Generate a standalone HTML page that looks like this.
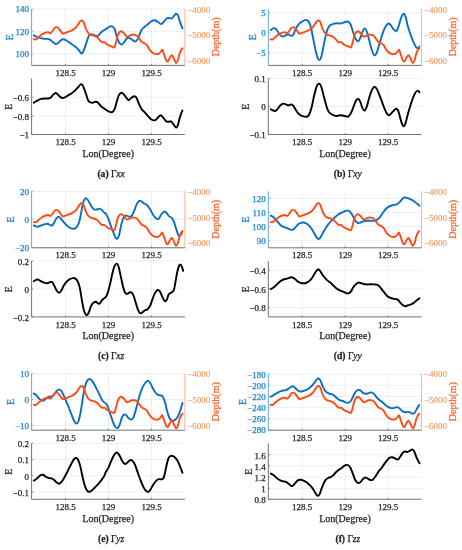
<!DOCTYPE html>
<html><head><meta charset="utf-8"><style>
html,body{margin:0;padding:0;background:#fff;width:462px;height:550px;overflow:hidden}
svg{display:block;font-family:"Liberation Serif","Times New Roman",serif}
.tb{fill:#1A82CA;stroke:#1A82CA;stroke-width:0.25px}
.to{fill:#F7975A;stroke:#F7975A;stroke-width:0.25px;stroke-opacity:.5}
.tk{fill:#262626;stroke:#262626;stroke-width:0.25px}
.tl{fill:#F2652E;stroke:#F2652E;stroke-width:0.25px}
.tc{fill:#222;stroke:#222;stroke-width:0.25px}
.mn{fill:#8F8FE0;stroke:#8F8FE0}
</style></head><body>
<svg width="462" height="550" viewBox="0 0 462 550">
<rect width="462" height="550" fill="#fff"/>
<path d="M65.5 9V65.4M65.5 78.5V134.5M108.5 9V65.4M108.5 78.5V134.5M151.5 9V65.4M151.5 78.5V134.5" stroke="#E3E3E3" stroke-width="0.6" fill="none"/>
<path d="M31.6 9H184.9M31.6 31.4H184.9M31.6 53.8H184.9" stroke="#DCEBF5" stroke-width="0.7" fill="none"/>
<path d="M31.6 97.2H184.9M31.6 116.2H184.9" stroke="#E3E3E3" stroke-width="0.6" fill="none"/>
<path d="M33.8 35.3C34.32 35.58 35.8 36.52 36.9 37C38 37.48 39.23 37.9 40.4 38.2C41.57 38.5 42.75 38.68 43.9 38.8C45.05 38.92 46.3 38.77 47.3 38.9C48.3 39.03 49.03 39.13 49.9 39.6C50.77 40.07 51.55 40.95 52.5 41.7C53.45 42.45 54.73 43.82 55.6 44.1C56.47 44.38 56.92 43.95 57.7 43.4C58.48 42.85 59.43 41.48 60.3 40.8C61.17 40.12 61.88 39.35 62.9 39.3C63.92 39.25 65.25 39.93 66.4 40.5C67.55 41.07 68.65 41.92 69.8 42.7C70.95 43.48 72.13 44.33 73.3 45.2C74.47 46.07 75.78 46.95 76.8 47.9C77.82 48.85 78.63 49.97 79.4 50.9C80.17 51.83 80.83 53.22 81.4 53.5C81.97 53.78 82.28 53.47 82.8 52.6C83.32 51.73 83.92 49.88 84.5 48.3C85.08 46.72 85.72 44.83 86.3 43.1C86.88 41.37 87.43 39.28 88 37.9C88.57 36.52 88.98 35.38 89.7 34.8C90.42 34.22 91.43 34.32 92.3 34.4C93.17 34.48 94.03 35 94.9 35.3C95.77 35.6 96.63 36.48 97.5 36.2C98.37 35.92 99.23 34.47 100.1 33.6C100.97 32.73 101.68 31.78 102.7 31C103.72 30.22 105.07 29.63 106.2 28.9C107.33 28.17 108.43 26.98 109.5 26.6C110.57 26.22 111.73 26.17 112.6 26.6C113.47 27.03 114.02 27.6 114.7 29.2C115.38 30.8 115.98 34.03 116.7 36.2C117.42 38.37 118.18 40.82 119 42.2C119.82 43.58 120.73 44.5 121.6 44.5C122.47 44.5 123.33 43.22 124.2 42.2C125.07 41.18 125.93 39.12 126.8 38.4C127.67 37.68 128.53 37.7 129.4 37.9C130.27 38.1 131.13 39.02 132 39.6C132.87 40.18 133.8 41.25 134.6 41.4C135.4 41.55 136.08 41.37 136.8 40.5C137.52 39.63 138.12 37.93 138.9 36.2C139.68 34.47 140.63 31.6 141.5 30.1C142.37 28.6 143.08 28.12 144.1 27.2C145.12 26.28 146.45 25.55 147.6 24.6C148.75 23.65 149.85 22.23 151 21.5C152.15 20.77 153.33 20.12 154.5 20.2C155.67 20.28 156.85 21.37 158 22C159.15 22.63 160.4 24.08 161.4 24C162.4 23.92 163.13 22.42 164 21.5C164.87 20.58 165.73 19.08 166.6 18.5C167.47 17.92 168.33 18 169.2 18C170.07 18 170.93 18.93 171.8 18.5C172.67 18.07 173.68 16.2 174.4 15.4C175.12 14.6 175.52 13.7 176.1 13.7C176.68 13.7 177.32 14.25 177.9 15.4C178.48 16.55 179.03 18.93 179.6 20.6C180.17 22.27 180.82 24.1 181.3 25.4C181.78 26.7 182.3 27.9 182.5 28.4" stroke="#0A6FBF" stroke-width="1.9" fill="none" stroke-linejoin="round" stroke-linecap="round"/>
<path d="M33.8 39.3C34.18 39.3 35.28 39.68 36.1 39.3C36.92 38.92 37.7 37.82 38.7 37C39.7 36.18 40.95 35.12 42.1 34.4C43.25 33.68 44.58 33.07 45.6 32.7C46.62 32.33 47.4 32.12 48.2 32.2C49 32.28 49.68 33.4 50.4 33.2C51.12 33 51.72 31.95 52.5 31C53.28 30.05 54.23 28.08 55.1 27.5C55.97 26.92 56.83 26.98 57.7 27.5C58.57 28.02 59.48 29.58 60.3 30.6C61.12 31.62 61.88 33.18 62.6 33.6C63.32 34.02 63.68 33.4 64.6 33.1C65.52 32.8 66.93 32.23 68.1 31.8C69.27 31.37 70.3 31.22 71.6 30.5C72.9 29.78 74.6 28.87 75.9 27.5C77.2 26.13 78.45 23.53 79.4 22.3C80.35 21.07 80.88 20.1 81.6 20.1C82.32 20.1 83.07 21.07 83.7 22.3C84.33 23.53 84.68 25.77 85.4 27.5C86.12 29.23 87.13 31.48 88 32.7C88.87 33.92 89.58 34.28 90.6 34.8C91.62 35.32 93.08 35.43 94.1 35.8C95.12 36.17 95.83 36.37 96.7 37C97.57 37.63 98.43 38.73 99.3 39.6C100.17 40.47 101.03 41.77 101.9 42.2C102.77 42.63 103.63 41.82 104.5 42.2C105.37 42.58 106.27 43.92 107.1 44.5C107.93 45.08 108.67 45.35 109.5 45.7C110.33 46.05 111.3 46.32 112.1 46.6C112.9 46.88 113.65 48.13 114.3 47.4C114.95 46.67 115.42 44.22 116 42.2C116.58 40.18 117.15 37.03 117.8 35.3C118.45 33.57 119.22 32.43 119.9 31.8C120.58 31.17 121.18 31.2 121.9 31.5C122.62 31.8 123.38 32.73 124.2 33.6C125.02 34.47 125.93 36.33 126.8 36.7C127.67 37.07 128.53 36.12 129.4 35.8C130.27 35.48 131.13 34.97 132 34.8C132.87 34.63 133.8 34.63 134.6 34.8C135.4 34.97 136.08 35.23 136.8 35.8C137.52 36.37 138.12 37.22 138.9 38.2C139.68 39.18 140.63 40.88 141.5 41.7C142.37 42.52 143.23 42.58 144.1 43.1C144.97 43.62 145.83 43.78 146.7 44.8C147.57 45.82 148.43 47.95 149.3 49.2C150.17 50.45 151.03 51.53 151.9 52.3C152.77 53.07 153.48 53.52 154.5 53.8C155.52 54.08 157 54.28 158 54C159 53.72 159.78 52.82 160.5 52.1C161.22 51.38 161.72 49.32 162.3 49.7C162.88 50.08 163.33 52.62 164 54.4C164.67 56.18 165.63 59.25 166.3 60.4C166.97 61.55 167.43 61.73 168 61.3C168.57 60.87 169.07 58.82 169.7 57.8C170.33 56.78 171.1 55.05 171.8 55.2C172.5 55.35 173.18 57.4 173.9 58.7C174.62 60 175.43 62.77 176.1 63C176.77 63.23 177.32 61.68 177.9 60.1C178.48 58.52 179.03 55.23 179.6 53.5C180.17 51.77 180.82 50.57 181.3 49.7C181.78 48.83 182.3 48.53 182.5 48.3" stroke="#FF4A12" stroke-width="1.9" fill="none" stroke-linejoin="round" stroke-linecap="round"/>
<path d="M33.8 102.7C34.18 102.47 35.28 101.78 36.1 101.3C36.92 100.82 37.83 100.2 38.7 99.8C39.57 99.4 40.3 99.12 41.3 98.9C42.3 98.68 43.55 98.57 44.7 98.5C45.85 98.43 47.18 98.67 48.2 98.5C49.22 98.33 49.93 98.18 50.8 97.5C51.67 96.82 52.6 95.15 53.4 94.4C54.2 93.65 54.88 93 55.6 93C56.32 93 56.92 93.73 57.7 94.4C58.48 95.07 59.43 96.4 60.3 97C61.17 97.6 62.03 98 62.9 98C63.77 98 64.63 97.43 65.5 97C66.37 96.57 67.08 96.03 68.1 95.4C69.12 94.77 70.45 94 71.6 93.2C72.75 92.4 73.85 91.67 75 90.6C76.15 89.53 77.48 87.87 78.5 86.8C79.52 85.73 80.38 84.43 81.1 84.2C81.82 83.97 82.23 84.48 82.8 85.4C83.37 86.32 83.92 88.12 84.5 89.7C85.08 91.28 85.63 93.02 86.3 94.9C86.97 96.78 87.63 99.7 88.5 101C89.37 102.3 90.63 102.47 91.5 102.7C92.37 102.93 92.98 102.55 93.7 102.4C94.42 102.25 95.07 101.75 95.8 101.8C96.53 101.85 97.23 101.97 98.1 102.7C98.97 103.43 99.93 105.18 101 106.2C102.07 107.22 103.23 107.93 104.5 108.8C105.77 109.67 107.33 110.83 108.6 111.4C109.87 111.97 111.08 112.63 112.1 112.2C113.12 111.77 113.93 110.53 114.7 108.8C115.47 107.07 115.98 104.12 116.7 101.8C117.42 99.48 118.18 96.4 119 94.9C119.82 93.4 120.73 92.8 121.6 92.8C122.47 92.8 123.33 93.97 124.2 94.9C125.07 95.83 126.02 97.53 126.8 98.4C127.58 99.27 128.18 100.18 128.9 100.1C129.62 100.02 130.23 98.53 131.1 97.9C131.97 97.27 133.23 96.37 134.1 96.3C134.97 96.23 135.5 96.28 136.3 97.5C137.1 98.72 138.03 101.67 138.9 103.6C139.77 105.53 140.63 107.75 141.5 109.1C142.37 110.45 143.08 110.6 144.1 111.7C145.12 112.8 146.45 114.45 147.6 115.7C148.75 116.95 149.85 118.42 151 119.2C152.15 119.98 153.48 120.5 154.5 120.4C155.52 120.3 156.1 119.47 157.1 118.6C158.1 117.73 159.5 115.4 160.5 115.2C161.5 115 162.23 116.45 163.1 117.4C163.97 118.35 164.83 120.17 165.7 120.9C166.57 121.63 167.43 121.72 168.3 121.8C169.17 121.88 170.03 120.97 170.9 121.4C171.77 121.83 172.63 123.38 173.5 124.4C174.37 125.42 175.37 127.37 176.1 127.5C176.83 127.63 177.32 126.73 177.9 125.2C178.48 123.67 179.03 120.32 179.6 118.3C180.17 116.28 180.82 114.4 181.3 113.1C181.78 111.8 182.3 110.93 182.5 110.5" stroke="#000" stroke-width="1.9" fill="none" stroke-linejoin="round" stroke-linecap="round"/>
<path d="M31.6 9V65.4" stroke="#3A95D2" stroke-width="0.8"/>
<path d="M184.9 9V65.4" stroke="#F7A07A" stroke-width="0.8"/>
<path d="M31.6 65.4H184.9 M31.6 78.5V134.5H184.9" stroke="#4f4f4f" stroke-width="0.8" fill="none"/>
<path d="M65.5 65.4v-1.5M65.5 134.5v-1.5M108.5 65.4v-1.5M108.5 134.5v-1.5M151.5 65.4v-1.5M151.5 134.5v-1.5" stroke="#4f4f4f" stroke-width="0.6"/>
<path d="M31.6 9h1.5M31.6 31.4h1.5M31.6 53.8h1.5" stroke="#3A95D2" stroke-width="0.6"/>
<path d="M184.9 9.5h-1.5M184.9 35.1h-1.5M184.9 60.7h-1.5" stroke="#F7A07A" stroke-width="0.6"/>
<path d="M31.6 97.2h1.5M31.6 116.2h1.5M31.6 134.5h1.5" stroke="#4f4f4f" stroke-width="0.6"/>
<g font-size="9"><text x="29" y="12.45" text-anchor="end" class="tb">140</text><text x="29" y="34.85" text-anchor="end" class="tb">120</text><text x="29" y="57.25" text-anchor="end" class="tb">100</text><text x="187.3" y="12.6" class="to">−4000</text><text x="187.3" y="38.2" class="to">−5000</text><text x="187.3" y="63.8" class="to">−6000</text><text x="29" y="101" text-anchor="end" class="tk">−0.6</text><text x="29" y="120" text-anchor="end" class="tk">−0.8</text><text x="29" y="138.3" text-anchor="end" class="tk">−1</text><text x="65.5" y="76" text-anchor="middle" class="tk">128.5</text><text x="65.5" y="145.2" text-anchor="middle" class="tk">128.5</text><text x="108.5" y="76" text-anchor="middle" class="tk">129</text><text x="108.5" y="145.2" text-anchor="middle" class="tk">129</text><text x="151.5" y="76" text-anchor="middle" class="tk">129.5</text><text x="151.5" y="145.2" text-anchor="middle" class="tk">129.5</text></g>
<text x="108.25" y="156.8" text-anchor="middle" font-size="10" class="tk">Lon(Degree)</text>
<text transform="translate(12.9 37.15) rotate(-90)" text-anchor="middle" font-size="10" class="tb">E</text>
<text transform="translate(12 106.8) rotate(-90)" text-anchor="middle" font-size="10" class="tk">E</text>
<text transform="translate(219.1 36.9) rotate(-90)" text-anchor="middle" font-size="10" class="tl">Depth(m)</text>
<text x="111.15" y="176.9" text-anchor="middle" font-size="9.6" class="tc"><tspan font-weight="bold">(a)</tspan> Γ<tspan font-style="italic" dx="-0.2">xx</tspan></text>
<path d="M302.2 9V65.4M302.2 78.5V134.5M345.2 9V65.4M345.2 78.5V134.5M388.2 9V65.4M388.2 78.5V134.5" stroke="#E3E3E3" stroke-width="0.6" fill="none"/>
<path d="M268.3 13H421.6M268.3 33H421.6M268.3 53H421.6" stroke="#DCEBF5" stroke-width="0.7" fill="none"/>
<path d="M268.3 78.5H421.6M268.3 106.5H421.6" stroke="#E3E3E3" stroke-width="0.6" fill="none"/>
<path d="M270.8 30.1C271.18 29.82 272.35 28.68 273.1 28.4C273.85 28.12 274.58 27.97 275.3 28.4C276.02 28.83 276.62 29.93 277.4 31C278.18 32.07 279.08 33.88 280 34.8C280.92 35.72 281.95 36.42 282.9 36.5C283.85 36.58 284.75 35.65 285.7 35.3C286.65 34.95 287.68 34.32 288.6 34.4C289.52 34.48 290.42 35.73 291.2 35.8C291.98 35.87 292.57 35.9 293.3 34.8C294.03 33.7 294.78 30.85 295.6 29.2C296.42 27.55 297.2 26.13 298.2 24.9C299.2 23.67 300.45 22.6 301.6 21.8C302.75 21 304.08 20.3 305.1 20.1C306.12 19.9 306.9 19.95 307.7 20.6C308.5 21.25 309.23 22.27 309.9 24C310.57 25.73 311.12 28.4 311.7 31C312.28 33.6 312.77 36.43 313.4 39.6C314.03 42.77 314.8 46.97 315.5 50C316.2 53.03 316.97 56.12 317.6 57.8C318.23 59.48 318.73 60.1 319.3 60.1C319.87 60.1 320.42 59.48 321 57.8C321.58 56.12 322.13 53.17 322.8 50C323.47 46.83 324.2 42.27 325 38.8C325.8 35.33 326.73 31.45 327.6 29.2C328.47 26.95 329.18 26.22 330.2 25.3C331.22 24.38 332.55 24.05 333.7 23.7C334.85 23.35 335.95 23.23 337.1 23.2C338.25 23.17 339.62 23.57 340.6 23.5C341.58 23.43 342.17 23.08 343 22.8C343.83 22.52 344.68 21.97 345.6 21.8C346.52 21.63 347.63 21.28 348.5 21.8C349.37 22.32 350.05 23.23 350.8 24.9C351.55 26.57 352.22 29.48 353 31.8C353.78 34.12 354.63 37.2 355.5 38.8C356.37 40.4 357.4 41.55 358.2 41.4C359 41.25 359.6 39.5 360.3 37.9C361 36.3 361.68 33.38 362.4 31.8C363.12 30.22 363.85 28.4 364.6 28.4C365.35 28.4 366.12 29.78 366.9 31.8C367.68 33.82 368.52 37.6 369.3 40.5C370.08 43.4 370.78 46.75 371.6 49.2C372.42 51.65 373.33 54.63 374.2 55.2C375.07 55.77 375.93 54.47 376.8 52.6C377.67 50.73 378.53 46.88 379.4 44C380.27 41.12 381.13 37.9 382 35.3C382.87 32.7 383.65 30.33 384.6 28.4C385.55 26.47 386.78 24.37 387.7 23.7C388.62 23.03 389.18 23.53 390.1 24.4C391.02 25.27 392.17 27.8 393.2 28.9C394.23 30 395.37 31.52 396.3 31C397.23 30.48 398.02 27.97 398.8 25.8C399.58 23.63 400.2 20.02 401 18C401.8 15.98 402.82 13.85 403.6 13.7C404.38 13.55 404.98 14.95 405.7 17.1C406.42 19.25 407.1 23.72 407.9 26.6C408.7 29.48 409.63 31.93 410.5 34.4C411.37 36.87 412.23 39.37 413.1 41.4C413.97 43.43 414.92 45.45 415.7 46.6C416.48 47.75 417.17 48.3 417.8 48.3C418.43 48.3 419.22 46.88 419.5 46.6" stroke="#0A6FBF" stroke-width="1.9" fill="none" stroke-linejoin="round" stroke-linecap="round"/>
<path d="M270.5 39.3C270.88 39.3 271.98 39.68 272.8 39.3C273.62 38.92 274.4 37.82 275.4 37C276.4 36.18 277.65 35.12 278.8 34.4C279.95 33.68 281.28 33.07 282.3 32.7C283.32 32.33 284.1 32.12 284.9 32.2C285.7 32.28 286.38 33.4 287.1 33.2C287.82 33 288.42 31.95 289.2 31C289.98 30.05 290.93 28.08 291.8 27.5C292.67 26.92 293.53 26.98 294.4 27.5C295.27 28.02 296.18 29.58 297 30.6C297.82 31.62 298.58 33.18 299.3 33.6C300.02 34.02 300.38 33.4 301.3 33.1C302.22 32.8 303.63 32.23 304.8 31.8C305.97 31.37 307 31.22 308.3 30.5C309.6 29.78 311.3 28.87 312.6 27.5C313.9 26.13 315.15 23.53 316.1 22.3C317.05 21.07 317.58 20.1 318.3 20.1C319.02 20.1 319.77 21.07 320.4 22.3C321.03 23.53 321.38 25.77 322.1 27.5C322.82 29.23 323.83 31.48 324.7 32.7C325.57 33.92 326.28 34.28 327.3 34.8C328.32 35.32 329.78 35.43 330.8 35.8C331.82 36.17 332.53 36.37 333.4 37C334.27 37.63 335.13 38.73 336 39.6C336.87 40.47 337.73 41.77 338.6 42.2C339.47 42.63 340.33 41.82 341.2 42.2C342.07 42.58 342.97 43.92 343.8 44.5C344.63 45.08 345.37 45.35 346.2 45.7C347.03 46.05 348 46.32 348.8 46.6C349.6 46.88 350.35 48.13 351 47.4C351.65 46.67 352.12 44.22 352.7 42.2C353.28 40.18 353.85 37.03 354.5 35.3C355.15 33.57 355.92 32.43 356.6 31.8C357.28 31.17 357.88 31.2 358.6 31.5C359.32 31.8 360.08 32.73 360.9 33.6C361.72 34.47 362.63 36.33 363.5 36.7C364.37 37.07 365.23 36.12 366.1 35.8C366.97 35.48 367.83 34.97 368.7 34.8C369.57 34.63 370.5 34.63 371.3 34.8C372.1 34.97 372.78 35.23 373.5 35.8C374.22 36.37 374.82 37.22 375.6 38.2C376.38 39.18 377.33 40.88 378.2 41.7C379.07 42.52 379.93 42.58 380.8 43.1C381.67 43.62 382.53 43.78 383.4 44.8C384.27 45.82 385.13 47.95 386 49.2C386.87 50.45 387.73 51.53 388.6 52.3C389.47 53.07 390.18 53.52 391.2 53.8C392.22 54.08 393.7 54.28 394.7 54C395.7 53.72 396.48 52.82 397.2 52.1C397.92 51.38 398.42 49.32 399 49.7C399.58 50.08 400.03 52.62 400.7 54.4C401.37 56.18 402.33 59.25 403 60.4C403.67 61.55 404.13 61.73 404.7 61.3C405.27 60.87 405.77 58.82 406.4 57.8C407.03 56.78 407.8 55.05 408.5 55.2C409.2 55.35 409.88 57.4 410.6 58.7C411.32 60 412.13 62.77 412.8 63C413.47 63.23 414.02 61.68 414.6 60.1C415.18 58.52 415.73 55.23 416.3 53.5C416.87 51.77 417.52 50.57 418 49.7C418.48 48.83 419 48.53 419.2 48.3" stroke="#FF4A12" stroke-width="1.9" fill="none" stroke-linejoin="round" stroke-linecap="round"/>
<path d="M270.8 109.3C271.18 109.5 272.35 110.22 273.1 110.5C273.85 110.78 274.53 111.28 275.3 111C276.07 110.72 276.83 109.75 277.7 108.8C278.57 107.85 279.55 106.17 280.5 105.3C281.45 104.43 282.48 103.75 283.4 103.6C284.32 103.45 285.13 104.12 286 104.4C286.87 104.68 287.73 105.3 288.6 105.3C289.47 105.3 290.42 104.32 291.2 104.4C291.98 104.48 292.57 104.93 293.3 105.8C294.03 106.67 294.78 108.33 295.6 109.6C296.42 110.87 297.25 112.38 298.2 113.4C299.15 114.42 300.3 115.17 301.3 115.7C302.3 116.23 303.22 116.45 304.2 116.6C305.18 116.75 306.33 117.03 307.2 116.6C308.07 116.17 308.65 115.6 309.4 114C310.15 112.4 310.92 110.03 311.7 107C312.48 103.97 313.32 99.12 314.1 95.8C314.88 92.48 315.65 89.12 316.4 87.1C317.15 85.08 317.88 83.98 318.6 83.7C319.32 83.42 320 83.97 320.7 85.4C321.4 86.83 322.08 89.7 322.8 92.3C323.52 94.9 324.2 98.12 325 101C325.8 103.88 326.73 107.53 327.6 109.6C328.47 111.67 329.18 112.45 330.2 113.4C331.22 114.35 332.55 114.87 333.7 115.3C334.85 115.73 336.1 116.02 337.1 116C338.1 115.98 338.68 115.25 339.7 115.2C340.72 115.15 342.22 115.53 343.2 115.7C344.18 115.87 344.77 116.05 345.6 116.2C346.43 116.35 347.33 117.07 348.2 116.6C349.07 116.13 349.93 115 350.8 113.4C351.67 111.8 352.53 109.13 353.4 107C354.27 104.87 355.2 101.95 356 100.6C356.8 99.25 357.48 98.7 358.2 98.9C358.92 99.1 359.6 100.3 360.3 101.8C361 103.3 361.68 106.45 362.4 107.9C363.12 109.35 363.85 110.78 364.6 110.5C365.35 110.22 366.12 108.37 366.9 106.2C367.68 104.03 368.52 100.1 369.3 97.5C370.08 94.9 370.78 92.38 371.6 90.6C372.42 88.82 373.33 87.08 374.2 86.8C375.07 86.52 375.93 87.55 376.8 88.9C377.67 90.25 378.53 92.75 379.4 94.9C380.27 97.05 381.13 99.48 382 101.8C382.87 104.12 383.73 106.77 384.6 108.8C385.47 110.83 386.4 112.93 387.2 114C388 115.07 388.53 115.5 389.4 115.2C390.27 114.9 391.33 113.27 392.4 112.2C393.47 111.13 394.85 109.08 395.8 108.8C396.75 108.52 397.38 109.07 398.1 110.5C398.82 111.93 399.42 115.08 400.1 117.4C400.78 119.72 401.55 122.95 402.2 124.4C402.85 125.85 403.42 126.4 404 126.1C404.58 125.8 405.05 124.62 405.7 122.6C406.35 120.58 407.1 116.88 407.9 114C408.7 111.12 409.63 108.05 410.5 105.3C411.37 102.55 412.23 99.67 413.1 97.5C413.97 95.33 414.92 93.45 415.7 92.3C416.48 91.15 417.17 90.6 417.8 90.6C418.43 90.6 419.22 92.02 419.5 92.3" stroke="#000" stroke-width="1.9" fill="none" stroke-linejoin="round" stroke-linecap="round"/>
<path d="M268.3 9V65.4" stroke="#3A95D2" stroke-width="0.8"/>
<path d="M421.6 9V65.4" stroke="#F7A07A" stroke-width="0.8"/>
<path d="M268.3 65.4H421.6 M268.3 78.5V134.5H421.6" stroke="#4f4f4f" stroke-width="0.8" fill="none"/>
<path d="M302.2 65.4v-1.5M302.2 134.5v-1.5M345.2 65.4v-1.5M345.2 134.5v-1.5M388.2 65.4v-1.5M388.2 134.5v-1.5" stroke="#4f4f4f" stroke-width="0.6"/>
<path d="M268.3 13h1.5M268.3 33h1.5M268.3 53h1.5" stroke="#3A95D2" stroke-width="0.6"/>
<path d="M421.6 9.5h-1.5M421.6 35.1h-1.5M421.6 60.7h-1.5" stroke="#F7A07A" stroke-width="0.6"/>
<path d="M268.3 78.5h1.5M268.3 106.5h1.5M268.3 134.5h1.5" stroke="#4f4f4f" stroke-width="0.6"/>
<g font-size="9"><text x="265.7" y="16.45" text-anchor="end" class="tb">5</text><text x="265.7" y="36.45" text-anchor="end" class="tb">0</text><text x="265.7" y="56.45" text-anchor="end" class="tb"><tspan class="mn">−</tspan>5</text><text x="424" y="12.6" class="to">−4000</text><text x="424" y="38.2" class="to">−5000</text><text x="424" y="63.8" class="to">−6000</text><text x="265.7" y="82.3" text-anchor="end" class="tk">0.1</text><text x="265.7" y="110.3" text-anchor="end" class="tk">0</text><text x="265.7" y="138.3" text-anchor="end" class="tk">−0.1</text><text x="302.2" y="76" text-anchor="middle" class="tk">128.5</text><text x="302.2" y="145.2" text-anchor="middle" class="tk">128.5</text><text x="345.2" y="76" text-anchor="middle" class="tk">129</text><text x="345.2" y="145.2" text-anchor="middle" class="tk">129</text><text x="388.2" y="76" text-anchor="middle" class="tk">129.5</text><text x="388.2" y="145.2" text-anchor="middle" class="tk">129.5</text></g>
<text x="344.95" y="156.8" text-anchor="middle" font-size="10" class="tk">Lon(Degree)</text>
<text transform="translate(255.7 37.15) rotate(-90)" text-anchor="middle" font-size="10" class="tb">E</text>
<text transform="translate(248.7 106.8) rotate(-90)" text-anchor="middle" font-size="10" class="tk">E</text>
<text transform="translate(455.8 36.9) rotate(-90)" text-anchor="middle" font-size="10" class="tl">Depth(m)</text>
<text x="347.85" y="176.9" text-anchor="middle" font-size="9.6" class="tc"><tspan font-weight="bold">(b)</tspan> Γ<tspan font-style="italic" dx="-0.2">xy</tspan></text>
<path d="M65.5 191.4V247.8M65.5 260.9V316.9M108.5 191.4V247.8M108.5 260.9V316.9M151.5 191.4V247.8M151.5 260.9V316.9" stroke="#E3E3E3" stroke-width="0.6" fill="none"/>
<path d="M31.6 191.4H184.9M31.6 219.45H184.9M31.6 247.5H184.9" stroke="#DCEBF5" stroke-width="0.7" fill="none"/>
<path d="M31.6 260.9H184.9M31.6 288.9H184.9" stroke="#E3E3E3" stroke-width="0.6" fill="none"/>
<path d="M33.8 225.4C34.18 225.58 35.28 226.32 36.1 226.5C36.92 226.68 37.83 226.68 38.7 226.5C39.57 226.32 40.3 225.78 41.3 225.4C42.3 225.02 43.7 224.48 44.7 224.2C45.7 223.92 46.43 223.62 47.3 223.7C48.17 223.78 49.08 224.42 49.9 224.7C50.72 224.98 51.48 225.77 52.2 225.4C52.92 225.03 53.52 223.65 54.2 222.5C54.88 221.35 55.57 219.45 56.3 218.5C57.03 217.55 57.85 216.8 58.6 216.8C59.35 216.8 60.03 217.7 60.8 218.5C61.57 219.3 62.33 220.57 63.2 221.6C64.07 222.63 65.03 223.77 66 224.7C66.97 225.63 68.02 226.55 69 227.2C69.98 227.85 70.95 228.37 71.9 228.6C72.85 228.83 73.83 228.95 74.7 228.6C75.57 228.25 76.32 227.72 77.1 226.5C77.88 225.28 78.73 223.55 79.4 221.3C80.07 219.05 80.53 215.83 81.1 213C81.67 210.17 82.23 206.55 82.8 204.3C83.37 202.05 83.92 200.5 84.5 199.5C85.08 198.5 85.63 198.07 86.3 198.3C86.97 198.53 87.72 199.67 88.5 200.9C89.28 202.13 90.13 204.32 91 205.7C91.87 207.08 92.75 208.57 93.7 209.2C94.65 209.83 95.77 209.6 96.7 209.5C97.63 209.4 98.43 208.52 99.3 208.6C100.17 208.68 101.03 209.27 101.9 210C102.77 210.73 103.82 212.37 104.5 213C105.18 213.63 105.4 212.93 106 213.8C106.6 214.67 107.38 216.47 108.1 218.2C108.82 219.93 109.5 222.03 110.3 224.2C111.1 226.37 112.03 228.97 112.9 231.2C113.77 233.43 114.77 236.37 115.5 237.6C116.23 238.83 116.72 238.95 117.3 238.6C117.88 238.25 118.35 237.75 119 235.5C119.65 233.25 120.48 227.98 121.2 225.1C121.92 222.22 122.52 219.78 123.3 218.2C124.08 216.62 125.03 215.9 125.9 215.6C126.77 215.3 127.63 216.27 128.5 216.4C129.37 216.53 130.23 217.12 131.1 216.4C131.97 215.68 132.83 213.97 133.7 212.1C134.57 210.23 135.43 207.07 136.3 205.2C137.17 203.33 138.03 201.53 138.9 200.9C139.77 200.27 140.63 200.97 141.5 201.4C142.37 201.83 143.15 202.87 144.1 203.5C145.05 204.13 146.18 204.2 147.2 205.2C148.22 206.2 149.22 207.92 150.2 209.5C151.18 211.08 152.1 213.2 153.1 214.7C154.1 216.2 155.25 217.83 156.2 218.5C157.15 219.17 157.98 219.33 158.8 218.7C159.62 218.07 160.23 215.88 161.1 214.7C161.97 213.52 163.08 211.88 164 211.6C164.92 211.32 165.73 212.2 166.6 213C167.47 213.8 168.33 215.6 169.2 216.4C170.07 217.2 171.02 216.93 171.8 217.8C172.58 218.67 173.18 219.8 173.9 221.6C174.62 223.4 175.35 226.35 176.1 228.6C176.85 230.85 177.73 233.9 178.4 235.1C179.07 236.3 179.47 236.25 180.1 235.8C180.73 235.35 181.85 232.97 182.2 232.4" stroke="#0A6FBF" stroke-width="1.9" fill="none" stroke-linejoin="round" stroke-linecap="round"/>
<path d="M33.8 222.1C34.18 222.1 35.28 222.48 36.1 222.1C36.92 221.72 37.7 220.62 38.7 219.8C39.7 218.98 40.95 217.92 42.1 217.2C43.25 216.48 44.58 215.87 45.6 215.5C46.62 215.13 47.4 214.92 48.2 215C49 215.08 49.68 216.2 50.4 216C51.12 215.8 51.72 214.75 52.5 213.8C53.28 212.85 54.23 210.88 55.1 210.3C55.97 209.72 56.83 209.78 57.7 210.3C58.57 210.82 59.48 212.38 60.3 213.4C61.12 214.42 61.88 215.98 62.6 216.4C63.32 216.82 63.68 216.2 64.6 215.9C65.52 215.6 66.93 215.03 68.1 214.6C69.27 214.17 70.3 214.02 71.6 213.3C72.9 212.58 74.6 211.67 75.9 210.3C77.2 208.93 78.45 206.33 79.4 205.1C80.35 203.87 80.88 202.9 81.6 202.9C82.32 202.9 83.07 203.87 83.7 205.1C84.33 206.33 84.68 208.57 85.4 210.3C86.12 212.03 87.13 214.28 88 215.5C88.87 216.72 89.58 217.08 90.6 217.6C91.62 218.12 93.08 218.23 94.1 218.6C95.12 218.97 95.83 219.17 96.7 219.8C97.57 220.43 98.43 221.53 99.3 222.4C100.17 223.27 101.03 224.57 101.9 225C102.77 225.43 103.63 224.62 104.5 225C105.37 225.38 106.27 226.72 107.1 227.3C107.93 227.88 108.67 228.15 109.5 228.5C110.33 228.85 111.3 229.12 112.1 229.4C112.9 229.68 113.65 230.93 114.3 230.2C114.95 229.47 115.42 227.02 116 225C116.58 222.98 117.15 219.83 117.8 218.1C118.45 216.37 119.22 215.23 119.9 214.6C120.58 213.97 121.18 214 121.9 214.3C122.62 214.6 123.38 215.53 124.2 216.4C125.02 217.27 125.93 219.13 126.8 219.5C127.67 219.87 128.53 218.92 129.4 218.6C130.27 218.28 131.13 217.77 132 217.6C132.87 217.43 133.8 217.43 134.6 217.6C135.4 217.77 136.08 218.03 136.8 218.6C137.52 219.17 138.12 220.02 138.9 221C139.68 221.98 140.63 223.68 141.5 224.5C142.37 225.32 143.23 225.38 144.1 225.9C144.97 226.42 145.83 226.58 146.7 227.6C147.57 228.62 148.43 230.75 149.3 232C150.17 233.25 151.03 234.33 151.9 235.1C152.77 235.87 153.48 236.32 154.5 236.6C155.52 236.88 157 237.08 158 236.8C159 236.52 159.78 235.62 160.5 234.9C161.22 234.18 161.72 232.12 162.3 232.5C162.88 232.88 163.33 235.42 164 237.2C164.67 238.98 165.63 242.05 166.3 243.2C166.97 244.35 167.43 244.53 168 244.1C168.57 243.67 169.07 241.62 169.7 240.6C170.33 239.58 171.1 237.85 171.8 238C172.5 238.15 173.18 240.2 173.9 241.5C174.62 242.8 175.43 245.57 176.1 245.8C176.77 246.03 177.32 244.48 177.9 242.9C178.48 241.32 179.03 238.03 179.6 236.3C180.17 234.57 180.82 233.37 181.3 232.5C181.78 231.63 182.3 231.33 182.5 231.1" stroke="#FF4A12" stroke-width="1.9" fill="none" stroke-linejoin="round" stroke-linecap="round"/>
<path d="M33.8 281.2C34.18 280.98 35.43 280.18 36.1 279.9C36.77 279.62 37.08 279.33 37.8 279.5C38.52 279.67 39.38 280.38 40.4 280.9C41.42 281.42 42.75 282.2 43.9 282.6C45.05 283 46.3 283.38 47.3 283.3C48.3 283.22 49.08 282.3 49.9 282.1C50.72 281.9 51.48 281.52 52.2 282.1C52.92 282.68 53.43 284.15 54.2 285.6C54.97 287.05 55.98 289.6 56.8 290.8C57.62 292 58.37 292.8 59.1 292.8C59.83 292.8 60.42 292 61.2 290.8C61.98 289.6 62.88 287.13 63.8 285.6C64.72 284.07 65.7 282.67 66.7 281.6C67.7 280.53 68.77 279.78 69.8 279.2C70.83 278.62 71.97 278.2 72.9 278.1C73.83 278 74.62 278.08 75.4 278.6C76.18 279.12 76.85 279.6 77.6 281.2C78.35 282.8 79.18 285.02 79.9 288.2C80.62 291.38 81.22 296.55 81.9 300.3C82.58 304.05 83.27 308.25 84 310.7C84.73 313.15 85.55 314.57 86.3 315C87.05 315.43 87.78 314.6 88.5 313.3C89.22 312 89.82 308.93 90.6 307.2C91.38 305.47 92.33 303.82 93.2 302.9C94.07 301.98 94.78 301.55 95.8 301.7C96.82 301.85 98.15 304.18 99.3 303.8C100.45 303.42 101.58 300.57 102.7 299.4C103.82 298.23 105.1 298.1 106 296.8C106.9 295.5 107.38 293.9 108.1 291.6C108.82 289.3 109.55 286.17 110.3 283C111.05 279.83 111.87 275.48 112.6 272.6C113.33 269.72 114.02 267.2 114.7 265.7C115.38 264.2 116.07 263.47 116.7 263.6C117.33 263.73 117.83 264.43 118.5 266.5C119.17 268.57 119.95 272.68 120.7 276C121.45 279.32 122.28 283.65 123 286.4C123.72 289.15 124.32 291.25 125 292.5C125.68 293.75 126.37 293.9 127.1 293.9C127.83 293.9 128.65 292.73 129.4 292.5C130.15 292.27 130.88 291.92 131.6 292.5C132.32 293.08 133 294.27 133.7 296C134.4 297.73 135.08 300.6 135.8 302.9C136.52 305.2 137.25 308.07 138 309.8C138.75 311.53 139.52 312.92 140.3 313.3C141.08 313.68 141.92 312.6 142.7 312.1C143.48 311.6 144.18 310.77 145 310.3C145.82 309.83 146.73 310.1 147.6 309.3C148.47 308.5 149.4 307.15 150.2 305.5C151 303.85 151.63 301.42 152.4 299.4C153.17 297.38 153.93 294.98 154.8 293.4C155.67 291.82 156.73 290.2 157.6 289.9C158.47 289.6 159.22 290.45 160 291.6C160.78 292.75 161.48 295.2 162.3 296.8C163.12 298.4 164.12 300.77 164.9 301.2C165.68 301.63 166.37 300.57 167 299.4C167.63 298.23 167.95 295.35 168.7 294.2C169.45 293.05 170.63 293.22 171.5 292.5C172.37 291.78 173.22 291.78 173.9 289.9C174.58 288.02 175.03 284.23 175.6 281.2C176.17 278.17 176.72 274.28 177.3 271.7C177.88 269.12 178.52 266.85 179.1 265.7C179.68 264.55 180.28 264.47 180.8 264.8C181.32 265.13 181.8 266.68 182.2 267.7C182.6 268.72 183.03 270.37 183.2 270.9" stroke="#000" stroke-width="1.9" fill="none" stroke-linejoin="round" stroke-linecap="round"/>
<path d="M31.6 191.4V247.8" stroke="#3A95D2" stroke-width="0.8"/>
<path d="M184.9 191.4V247.8" stroke="#F7A07A" stroke-width="0.8"/>
<path d="M31.6 247.8H184.9 M31.6 260.9V316.9H184.9" stroke="#4f4f4f" stroke-width="0.8" fill="none"/>
<path d="M65.5 247.8v-1.5M65.5 316.9v-1.5M108.5 247.8v-1.5M108.5 316.9v-1.5M151.5 247.8v-1.5M151.5 316.9v-1.5" stroke="#4f4f4f" stroke-width="0.6"/>
<path d="M31.6 191.4h1.5M31.6 219.45h1.5M31.6 247.5h1.5" stroke="#3A95D2" stroke-width="0.6"/>
<path d="M184.9 191.9h-1.5M184.9 217.5h-1.5M184.9 243.1h-1.5" stroke="#F7A07A" stroke-width="0.6"/>
<path d="M31.6 260.9h1.5M31.6 288.9h1.5M31.6 316.9h1.5" stroke="#4f4f4f" stroke-width="0.6"/>
<g font-size="9"><text x="29" y="194.85" text-anchor="end" class="tb">20</text><text x="29" y="222.9" text-anchor="end" class="tb">0</text><text x="29" y="250.95" text-anchor="end" class="tb"><tspan class="mn">−</tspan>20</text><text x="187.3" y="195" class="to">−4000</text><text x="187.3" y="220.6" class="to">−5000</text><text x="187.3" y="246.2" class="to">−6000</text><text x="29" y="264.7" text-anchor="end" class="tk">0.2</text><text x="29" y="292.7" text-anchor="end" class="tk">0</text><text x="29" y="320.7" text-anchor="end" class="tk">−0.2</text><text x="65.5" y="258.4" text-anchor="middle" class="tk">128.5</text><text x="65.5" y="327.6" text-anchor="middle" class="tk">128.5</text><text x="108.5" y="258.4" text-anchor="middle" class="tk">129</text><text x="108.5" y="327.6" text-anchor="middle" class="tk">129</text><text x="151.5" y="258.4" text-anchor="middle" class="tk">129.5</text><text x="151.5" y="327.6" text-anchor="middle" class="tk">129.5</text></g>
<text x="108.25" y="339.2" text-anchor="middle" font-size="10" class="tk">Lon(Degree)</text>
<text transform="translate(14.3 219.55) rotate(-90)" text-anchor="middle" font-size="10" class="tb">E</text>
<text transform="translate(12 289.2) rotate(-90)" text-anchor="middle" font-size="10" class="tk">E</text>
<text transform="translate(219.1 219.3) rotate(-90)" text-anchor="middle" font-size="10" class="tl">Depth(m)</text>
<text x="111.15" y="359.3" text-anchor="middle" font-size="9.6" class="tc"><tspan font-weight="bold">(c)</tspan> Γ<tspan font-style="italic" dx="-0.2">xz</tspan></text>
<path d="M302.2 191.4V247.8M302.2 260.9V316.9M345.2 191.4V247.8M345.2 260.9V316.9M388.2 191.4V247.8M388.2 260.9V316.9" stroke="#E3E3E3" stroke-width="0.6" fill="none"/>
<path d="M268.3 198.4H421.6M268.3 212.5H421.6M268.3 226.6H421.6M268.3 240.7H421.6" stroke="#DCEBF5" stroke-width="0.7" fill="none"/>
<path d="M268.3 270.2H421.6M268.3 288.9H421.6M268.3 307.6H421.6" stroke="#E3E3E3" stroke-width="0.6" fill="none"/>
<path d="M270.8 215.6C271.18 215.8 272.28 216.13 273.1 216.8C273.92 217.47 274.83 218.65 275.7 219.6C276.57 220.55 277.43 221.53 278.3 222.5C279.17 223.47 280.03 224.68 280.9 225.4C281.77 226.12 282.65 226.42 283.5 226.8C284.35 227.18 285.15 227.35 286 227.7C286.85 228.05 287.73 228.53 288.6 228.9C289.47 229.27 290.42 229.82 291.2 229.9C291.98 229.98 292.57 229.85 293.3 229.4C294.03 228.95 294.78 228.07 295.6 227.2C296.42 226.33 297.33 224.93 298.2 224.2C299.07 223.47 299.93 223.08 300.8 222.8C301.67 222.52 302.53 222.4 303.4 222.5C304.27 222.6 305.13 222.97 306 223.4C306.87 223.83 307.73 224.3 308.6 225.1C309.47 225.9 310.33 226.98 311.2 228.2C312.07 229.42 313 231.03 313.8 232.4C314.6 233.77 315.28 235.3 316 236.4C316.72 237.5 317.47 238.67 318.1 239C318.73 239.33 319.23 238.98 319.8 238.4C320.37 237.82 320.83 236.7 321.5 235.5C322.17 234.3 323.02 232.58 323.8 231.2C324.58 229.82 325.33 228.5 326.2 227.2C327.07 225.9 328.05 224.53 329 223.4C329.95 222.27 330.92 221.42 331.9 220.4C332.88 219.38 333.88 218.25 334.9 217.3C335.92 216.35 336.9 215.48 338 214.7C339.1 213.92 340.67 213.03 341.5 212.6C342.33 212.17 342.32 212.38 343 212.1C343.68 211.82 344.73 211.13 345.6 210.9C346.47 210.67 347.33 210.42 348.2 210.7C349.07 210.98 350 211.65 350.8 212.6C351.6 213.55 352.22 215.03 353 216.4C353.78 217.77 354.63 219.7 355.5 220.8C356.37 221.9 357.33 222.72 358.2 223C359.07 223.28 359.83 222.78 360.7 222.5C361.57 222.22 362.45 221.58 363.4 221.3C364.35 221.02 365.47 220.88 366.4 220.8C367.33 220.72 368.13 220.8 369 220.8C369.87 220.8 370.73 220.8 371.6 220.8C372.47 220.8 373.33 220.95 374.2 220.8C375.07 220.65 375.88 220.48 376.8 219.9C377.72 219.32 378.75 218.4 379.7 217.3C380.65 216.2 381.55 214.6 382.5 213.3C383.45 212 384.42 210.57 385.4 209.5C386.38 208.43 387.38 207.57 388.4 206.9C389.42 206.23 390.47 205.85 391.5 205.5C392.53 205.15 393.6 205.05 394.6 204.8C395.6 204.55 396.58 204.52 397.5 204C398.42 203.48 399.28 202.57 400.1 201.7C400.92 200.83 401.67 199.52 402.4 198.8C403.13 198.08 403.72 197.55 404.5 197.4C405.28 197.25 406.15 197.62 407.1 197.9C408.05 198.18 409.2 198.67 410.2 199.1C411.2 199.53 412.18 199.92 413.1 200.5C414.02 201.08 414.92 201.97 415.7 202.6C416.48 203.23 417.17 203.78 417.8 204.3C418.43 204.82 419.22 205.47 419.5 205.7" stroke="#0A6FBF" stroke-width="1.9" fill="none" stroke-linejoin="round" stroke-linecap="round"/>
<path d="M270.5 222.1C270.88 222.1 271.98 222.48 272.8 222.1C273.62 221.72 274.4 220.62 275.4 219.8C276.4 218.98 277.65 217.92 278.8 217.2C279.95 216.48 281.28 215.87 282.3 215.5C283.32 215.13 284.1 214.92 284.9 215C285.7 215.08 286.38 216.2 287.1 216C287.82 215.8 288.42 214.75 289.2 213.8C289.98 212.85 290.93 210.88 291.8 210.3C292.67 209.72 293.53 209.78 294.4 210.3C295.27 210.82 296.18 212.38 297 213.4C297.82 214.42 298.58 215.98 299.3 216.4C300.02 216.82 300.38 216.2 301.3 215.9C302.22 215.6 303.63 215.03 304.8 214.6C305.97 214.17 307 214.02 308.3 213.3C309.6 212.58 311.3 211.67 312.6 210.3C313.9 208.93 315.15 206.33 316.1 205.1C317.05 203.87 317.58 202.9 318.3 202.9C319.02 202.9 319.77 203.87 320.4 205.1C321.03 206.33 321.38 208.57 322.1 210.3C322.82 212.03 323.83 214.28 324.7 215.5C325.57 216.72 326.28 217.08 327.3 217.6C328.32 218.12 329.78 218.23 330.8 218.6C331.82 218.97 332.53 219.17 333.4 219.8C334.27 220.43 335.13 221.53 336 222.4C336.87 223.27 337.73 224.57 338.6 225C339.47 225.43 340.33 224.62 341.2 225C342.07 225.38 342.97 226.72 343.8 227.3C344.63 227.88 345.37 228.15 346.2 228.5C347.03 228.85 348 229.12 348.8 229.4C349.6 229.68 350.35 230.93 351 230.2C351.65 229.47 352.12 227.02 352.7 225C353.28 222.98 353.85 219.83 354.5 218.1C355.15 216.37 355.92 215.23 356.6 214.6C357.28 213.97 357.88 214 358.6 214.3C359.32 214.6 360.08 215.53 360.9 216.4C361.72 217.27 362.63 219.13 363.5 219.5C364.37 219.87 365.23 218.92 366.1 218.6C366.97 218.28 367.83 217.77 368.7 217.6C369.57 217.43 370.5 217.43 371.3 217.6C372.1 217.77 372.78 218.03 373.5 218.6C374.22 219.17 374.82 220.02 375.6 221C376.38 221.98 377.33 223.68 378.2 224.5C379.07 225.32 379.93 225.38 380.8 225.9C381.67 226.42 382.53 226.58 383.4 227.6C384.27 228.62 385.13 230.75 386 232C386.87 233.25 387.73 234.33 388.6 235.1C389.47 235.87 390.18 236.32 391.2 236.6C392.22 236.88 393.7 237.08 394.7 236.8C395.7 236.52 396.48 235.62 397.2 234.9C397.92 234.18 398.42 232.12 399 232.5C399.58 232.88 400.03 235.42 400.7 237.2C401.37 238.98 402.33 242.05 403 243.2C403.67 244.35 404.13 244.53 404.7 244.1C405.27 243.67 405.77 241.62 406.4 240.6C407.03 239.58 407.8 237.85 408.5 238C409.2 238.15 409.88 240.2 410.6 241.5C411.32 242.8 412.13 245.57 412.8 245.8C413.47 246.03 414.02 244.48 414.6 242.9C415.18 241.32 415.73 238.03 416.3 236.3C416.87 234.57 417.52 233.37 418 232.5C418.48 231.63 419 231.33 419.2 231.1" stroke="#FF4A12" stroke-width="1.9" fill="none" stroke-linejoin="round" stroke-linecap="round"/>
<path d="M270.8 289C271.18 288.8 272.28 288.37 273.1 287.8C273.92 287.23 274.83 286.4 275.7 285.6C276.57 284.8 277.43 283.78 278.3 283C279.17 282.22 280.03 281.48 280.9 280.9C281.77 280.32 282.65 279.85 283.5 279.5C284.35 279.15 285.15 279.03 286 278.8C286.85 278.57 287.73 278.35 288.6 278.1C289.47 277.85 290.42 277.35 291.2 277.3C291.98 277.25 292.57 277.43 293.3 277.8C294.03 278.17 294.78 278.83 295.6 279.5C296.42 280.17 297.33 281.22 298.2 281.8C299.07 282.38 299.93 282.75 300.8 283C301.67 283.25 302.53 283.3 303.4 283.3C304.27 283.3 305.13 283.28 306 283C306.87 282.72 307.73 282.23 308.6 281.6C309.47 280.97 310.4 280.18 311.2 279.2C312 278.22 312.63 276.95 313.4 275.7C314.17 274.45 315.02 272.73 315.8 271.7C316.58 270.67 317.43 269.7 318.1 269.5C318.77 269.3 319.13 269.7 319.8 270.5C320.47 271.3 321.32 273.15 322.1 274.3C322.88 275.45 323.63 276.38 324.5 277.4C325.37 278.42 326.35 279.53 327.3 280.4C328.25 281.27 329.23 281.8 330.2 282.6C331.17 283.4 332.08 284.27 333.1 285.2C334.12 286.13 335.25 287.37 336.3 288.2C337.35 289.03 338.28 289.63 339.4 290.2C340.52 290.77 341.97 291.17 343 291.6C344.03 292.03 344.73 292.5 345.6 292.8C346.47 293.1 347.33 293.6 348.2 293.4C349.07 293.2 350 292.53 350.8 291.6C351.6 290.67 352.22 288.95 353 287.8C353.78 286.65 354.63 285.57 355.5 284.7C356.37 283.83 357.33 282.88 358.2 282.6C359.07 282.32 359.83 282.77 360.7 283C361.57 283.23 362.45 283.77 363.4 284C364.35 284.23 365.47 284.33 366.4 284.4C367.33 284.47 368.13 284.43 369 284.4C369.87 284.37 370.73 284.2 371.6 284.2C372.47 284.2 373.33 284.32 374.2 284.4C375.07 284.48 375.93 284.37 376.8 284.7C377.67 285.03 378.53 285.58 379.4 286.4C380.27 287.22 381.13 288.5 382 289.6C382.87 290.7 383.73 291.93 384.6 293C385.47 294.07 386.33 295.22 387.2 296C388.07 296.78 388.85 297.27 389.8 297.7C390.75 298.13 391.9 298.37 392.9 298.6C393.9 298.83 394.93 298.88 395.8 299.1C396.67 299.32 397.38 299.35 398.1 299.9C398.82 300.45 399.33 301.53 400.1 302.4C400.87 303.27 401.88 304.43 402.7 305.1C403.52 305.77 404.22 306.33 405 306.4C405.78 306.47 406.48 305.8 407.4 305.5C408.32 305.2 409.55 304.95 410.5 304.6C411.45 304.25 412.23 303.97 413.1 303.4C413.97 302.83 414.92 301.87 415.7 301.2C416.48 300.53 417.17 299.9 417.8 299.4C418.43 298.9 419.22 298.4 419.5 298.2" stroke="#000" stroke-width="1.9" fill="none" stroke-linejoin="round" stroke-linecap="round"/>
<path d="M268.3 191.4V247.8" stroke="#3A95D2" stroke-width="0.8"/>
<path d="M421.6 191.4V247.8" stroke="#F7A07A" stroke-width="0.8"/>
<path d="M268.3 247.8H421.6 M268.3 260.9V316.9H421.6" stroke="#4f4f4f" stroke-width="0.8" fill="none"/>
<path d="M302.2 247.8v-1.5M302.2 316.9v-1.5M345.2 247.8v-1.5M345.2 316.9v-1.5M388.2 247.8v-1.5M388.2 316.9v-1.5" stroke="#4f4f4f" stroke-width="0.6"/>
<path d="M268.3 198.4h1.5M268.3 212.5h1.5M268.3 226.6h1.5M268.3 240.7h1.5" stroke="#3A95D2" stroke-width="0.6"/>
<path d="M421.6 191.9h-1.5M421.6 217.5h-1.5M421.6 243.1h-1.5" stroke="#F7A07A" stroke-width="0.6"/>
<path d="M268.3 270.2h1.5M268.3 288.9h1.5M268.3 307.6h1.5" stroke="#4f4f4f" stroke-width="0.6"/>
<g font-size="9"><text x="265.7" y="201.85" text-anchor="end" class="tb">120</text><text x="265.7" y="215.95" text-anchor="end" class="tb">110</text><text x="265.7" y="230.05" text-anchor="end" class="tb">100</text><text x="265.7" y="244.15" text-anchor="end" class="tb">90</text><text x="424" y="195" class="to">−4000</text><text x="424" y="220.6" class="to">−5000</text><text x="424" y="246.2" class="to">−6000</text><text x="265.7" y="274" text-anchor="end" class="tk">−0.4</text><text x="265.7" y="292.7" text-anchor="end" class="tk">−0.6</text><text x="265.7" y="311.4" text-anchor="end" class="tk">−0.8</text><text x="302.2" y="258.4" text-anchor="middle" class="tk">128.5</text><text x="302.2" y="327.6" text-anchor="middle" class="tk">128.5</text><text x="345.2" y="258.4" text-anchor="middle" class="tk">129</text><text x="345.2" y="327.6" text-anchor="middle" class="tk">129</text><text x="388.2" y="258.4" text-anchor="middle" class="tk">129.5</text><text x="388.2" y="327.6" text-anchor="middle" class="tk">129.5</text></g>
<text x="344.95" y="339.2" text-anchor="middle" font-size="10" class="tk">Lon(Degree)</text>
<text transform="translate(249.2 219.55) rotate(-90)" text-anchor="middle" font-size="10" class="tb">E</text>
<text transform="translate(248.8 289.2) rotate(-90)" text-anchor="middle" font-size="10" class="tk">E</text>
<text transform="translate(455.8 219.3) rotate(-90)" text-anchor="middle" font-size="10" class="tl">Depth(m)</text>
<text x="347.85" y="359.3" text-anchor="middle" font-size="9.6" class="tc"><tspan font-weight="bold">(d)</tspan> Γ<tspan font-style="italic" dx="-0.2">yy</tspan></text>
<path d="M65.5 373.8V430.2M65.5 443.3V499.3M108.5 373.8V430.2M108.5 443.3V499.3M151.5 373.8V430.2M151.5 443.3V499.3" stroke="#E3E3E3" stroke-width="0.6" fill="none"/>
<path d="M31.6 373.6H184.9M31.6 399.5H184.9M31.6 425.3H184.9" stroke="#DCEBF5" stroke-width="0.7" fill="none"/>
<path d="M31.6 443.3H184.9M31.6 459.5H184.9M31.6 475.7H184.9M31.6 491.9H184.9" stroke="#E3E3E3" stroke-width="0.6" fill="none"/>
<path d="M33.8 393.6C34.18 393.83 35.28 394.25 36.1 395C36.92 395.75 37.83 397.18 38.7 398.1C39.57 399.02 40.5 400.07 41.3 400.5C42.1 400.93 42.73 400.98 43.5 400.7C44.27 400.42 45.03 399.47 45.9 398.8C46.77 398.13 47.83 397.05 48.7 396.7C49.57 396.35 50.23 397.05 51.1 396.7C51.97 396.35 53.03 395.47 53.9 394.6C54.77 393.73 55.43 392.37 56.3 391.5C57.17 390.63 58.23 389.45 59.1 389.4C59.97 389.35 60.72 390.13 61.5 391.2C62.28 392.27 62.98 394.02 63.8 395.8C64.62 397.58 65.53 399.87 66.4 401.9C67.27 403.93 68.13 405.83 69 408C69.87 410.17 70.73 412.73 71.6 414.9C72.47 417.07 73.4 419.57 74.2 421C75 422.43 75.68 423.5 76.4 423.5C77.12 423.5 77.8 422.87 78.5 421C79.2 419.13 79.88 416.07 80.6 412.3C81.32 408.53 82.05 402.73 82.8 398.4C83.55 394.07 84.32 389.32 85.1 386.3C85.88 383.28 86.73 381.52 87.5 380.3C88.27 379.08 88.9 378.87 89.7 379C90.5 379.13 91.43 380.02 92.3 381.1C93.17 382.18 94.03 383.92 94.9 385.5C95.77 387.08 96.63 388.88 97.5 390.6C98.37 392.32 99.23 394.07 100.1 395.8C100.97 397.53 101.72 399.7 102.7 401C103.68 402.3 105.1 402.53 106 403.6C106.9 404.67 107.38 405.67 108.1 407.4C108.82 409.13 109.5 411.6 110.3 414C111.1 416.4 112.03 419.63 112.9 421.8C113.77 423.97 114.68 425.98 115.5 427C116.32 428.02 117.07 428.38 117.8 427.9C118.53 427.42 119.22 425.83 119.9 424.1C120.58 422.37 121.18 419.12 121.9 417.5C122.62 415.88 123.45 414.75 124.2 414.4C124.95 414.05 125.68 414.8 126.4 415.4C127.12 416 127.72 417.3 128.5 418C129.28 418.7 130.28 419.68 131.1 419.6C131.92 419.52 132.68 418.87 133.4 417.5C134.12 416.13 134.72 413.72 135.4 411.4C136.08 409.08 136.77 406.33 137.5 403.6C138.23 400.87 138.98 397.65 139.8 395C140.62 392.35 141.53 389.67 142.4 387.7C143.27 385.73 144.13 384.35 145 383.2C145.87 382.05 146.83 381 147.6 380.8C148.37 380.6 148.88 381.08 149.6 382C150.32 382.92 151.08 384.77 151.9 386.3C152.72 387.83 153.55 389.82 154.5 391.2C155.45 392.58 156.6 393.92 157.6 394.6C158.6 395.28 159.63 394.95 160.5 395.3C161.37 395.65 162.07 395.6 162.8 396.7C163.53 397.8 164.2 399.58 164.9 401.9C165.6 404.22 166.28 408 167 410.6C167.72 413.2 168.45 415.87 169.2 417.5C169.95 419.13 170.72 419.88 171.5 420.4C172.28 420.92 173.13 420.85 173.9 420.6C174.67 420.35 175.35 419.77 176.1 418.9C176.85 418.03 177.67 416.93 178.4 415.4C179.13 413.87 179.82 411.8 180.5 409.7C181.18 407.6 182.17 403.95 182.5 402.8" stroke="#0A6FBF" stroke-width="1.9" fill="none" stroke-linejoin="round" stroke-linecap="round"/>
<path d="M33.8 404.8C34.18 404.8 35.28 405.18 36.1 404.8C36.92 404.42 37.7 403.32 38.7 402.5C39.7 401.68 40.95 400.62 42.1 399.9C43.25 399.18 44.58 398.57 45.6 398.2C46.62 397.83 47.4 397.62 48.2 397.7C49 397.78 49.68 398.9 50.4 398.7C51.12 398.5 51.72 397.45 52.5 396.5C53.28 395.55 54.23 393.58 55.1 393C55.97 392.42 56.83 392.48 57.7 393C58.57 393.52 59.48 395.08 60.3 396.1C61.12 397.12 61.88 398.68 62.6 399.1C63.32 399.52 63.68 398.9 64.6 398.6C65.52 398.3 66.93 397.73 68.1 397.3C69.27 396.87 70.3 396.72 71.6 396C72.9 395.28 74.6 394.37 75.9 393C77.2 391.63 78.45 389.03 79.4 387.8C80.35 386.57 80.88 385.6 81.6 385.6C82.32 385.6 83.07 386.57 83.7 387.8C84.33 389.03 84.68 391.27 85.4 393C86.12 394.73 87.13 396.98 88 398.2C88.87 399.42 89.58 399.78 90.6 400.3C91.62 400.82 93.08 400.93 94.1 401.3C95.12 401.67 95.83 401.87 96.7 402.5C97.57 403.13 98.43 404.23 99.3 405.1C100.17 405.97 101.03 407.27 101.9 407.7C102.77 408.13 103.63 407.32 104.5 407.7C105.37 408.08 106.27 409.42 107.1 410C107.93 410.58 108.67 410.85 109.5 411.2C110.33 411.55 111.3 411.82 112.1 412.1C112.9 412.38 113.65 413.63 114.3 412.9C114.95 412.17 115.42 409.72 116 407.7C116.58 405.68 117.15 402.53 117.8 400.8C118.45 399.07 119.22 397.93 119.9 397.3C120.58 396.67 121.18 396.7 121.9 397C122.62 397.3 123.38 398.23 124.2 399.1C125.02 399.97 125.93 401.83 126.8 402.2C127.67 402.57 128.53 401.62 129.4 401.3C130.27 400.98 131.13 400.47 132 400.3C132.87 400.13 133.8 400.13 134.6 400.3C135.4 400.47 136.08 400.73 136.8 401.3C137.52 401.87 138.12 402.72 138.9 403.7C139.68 404.68 140.63 406.38 141.5 407.2C142.37 408.02 143.23 408.08 144.1 408.6C144.97 409.12 145.83 409.28 146.7 410.3C147.57 411.32 148.43 413.45 149.3 414.7C150.17 415.95 151.03 417.03 151.9 417.8C152.77 418.57 153.48 419.02 154.5 419.3C155.52 419.58 157 419.78 158 419.5C159 419.22 159.78 418.32 160.5 417.6C161.22 416.88 161.72 414.82 162.3 415.2C162.88 415.58 163.33 418.12 164 419.9C164.67 421.68 165.63 424.75 166.3 425.9C166.97 427.05 167.43 427.23 168 426.8C168.57 426.37 169.07 424.32 169.7 423.3C170.33 422.28 171.1 420.55 171.8 420.7C172.5 420.85 173.18 422.9 173.9 424.2C174.62 425.5 175.43 428.27 176.1 428.5C176.77 428.73 177.32 427.18 177.9 425.6C178.48 424.02 179.03 420.73 179.6 419C180.17 417.27 180.82 416.07 181.3 415.2C181.78 414.33 182.3 414.03 182.5 413.8" stroke="#FF4A12" stroke-width="1.9" fill="none" stroke-linejoin="round" stroke-linecap="round"/>
<path d="M33.8 480.6C34.18 480.38 35.28 479.95 36.1 479.3C36.92 478.65 37.83 477.45 38.7 476.7C39.57 475.95 40.5 475.08 41.3 474.8C42.1 474.52 42.73 474.68 43.5 475C44.27 475.32 45.03 476.18 45.9 476.7C46.77 477.22 47.75 477.83 48.7 478.1C49.65 478.37 50.68 477.98 51.6 478.3C52.52 478.62 53.33 479.28 54.2 480C55.07 480.72 55.98 481.98 56.8 482.6C57.62 483.22 58.32 483.82 59.1 483.7C59.88 483.58 60.72 482.77 61.5 481.9C62.28 481.03 62.98 479.88 63.8 478.5C64.62 477.12 65.53 475.28 66.4 473.6C67.27 471.92 68.13 470.13 69 468.4C69.87 466.67 70.73 464.78 71.6 463.2C72.47 461.62 73.4 459.77 74.2 458.9C75 458.03 75.68 457.72 76.4 458C77.12 458.28 77.8 459 78.5 460.6C79.2 462.2 79.88 464.7 80.6 467.6C81.32 470.5 82.05 474.83 82.8 478C83.55 481.17 84.32 484.43 85.1 486.6C85.88 488.77 86.73 490.13 87.5 491C88.27 491.87 88.9 491.95 89.7 491.8C90.5 491.65 91.43 490.82 92.3 490.1C93.17 489.38 93.97 488.45 94.9 487.5C95.83 486.55 96.88 485.55 97.9 484.4C98.92 483.25 99.97 481.97 101 480.6C102.03 479.23 103.27 477.7 104.1 476.2C104.93 474.7 105.33 472.9 106 471.6C106.67 470.3 107.38 469.8 108.1 468.4C108.82 467 109.5 465.07 110.3 463.2C111.1 461.33 112.03 458.87 112.9 457.2C113.77 455.53 114.68 453.92 115.5 453.2C116.32 452.48 117.07 452.38 117.8 452.9C118.53 453.42 119.12 454.87 119.9 456.3C120.68 457.73 121.65 460.2 122.5 461.5C123.35 462.8 124.15 463.95 125 464.1C125.85 464.25 126.73 463.07 127.6 462.4C128.47 461.73 129.33 460.3 130.2 460.1C131.07 459.9 131.98 460.38 132.8 461.2C133.62 462.02 134.32 463.22 135.1 465C135.88 466.78 136.63 469.45 137.5 471.9C138.37 474.35 139.35 477.25 140.3 479.7C141.25 482.15 142.28 484.78 143.2 486.6C144.12 488.42 144.93 489.73 145.8 490.6C146.67 491.47 147.58 492.03 148.4 491.8C149.22 491.57 149.92 490.35 150.7 489.2C151.48 488.05 152.23 486.25 153.1 484.9C153.97 483.55 154.95 482.05 155.9 481.1C156.85 480.15 157.88 479.5 158.8 479.2C159.72 478.9 160.62 479.5 161.4 479.3C162.18 479.1 162.87 479.23 163.5 478C164.13 476.77 164.62 474.37 165.2 471.9C165.78 469.43 166.42 465.57 167 463.2C167.58 460.83 168.05 458.93 168.7 457.7C169.35 456.47 170.1 456.03 170.9 455.8C171.7 455.57 172.63 455.83 173.5 456.3C174.37 456.77 175.28 457.58 176.1 458.6C176.92 459.62 177.67 460.9 178.4 462.4C179.13 463.9 179.82 465.87 180.5 467.6C181.18 469.33 182.17 471.93 182.5 472.8" stroke="#000" stroke-width="1.9" fill="none" stroke-linejoin="round" stroke-linecap="round"/>
<path d="M31.6 373.8V430.2" stroke="#3A95D2" stroke-width="0.8"/>
<path d="M184.9 373.8V430.2" stroke="#F7A07A" stroke-width="0.8"/>
<path d="M31.6 430.2H184.9 M31.6 443.3V499.3H184.9" stroke="#4f4f4f" stroke-width="0.8" fill="none"/>
<path d="M65.5 430.2v-1.5M65.5 499.3v-1.5M108.5 430.2v-1.5M108.5 499.3v-1.5M151.5 430.2v-1.5M151.5 499.3v-1.5" stroke="#4f4f4f" stroke-width="0.6"/>
<path d="M31.6 373.6h1.5M31.6 399.5h1.5M31.6 425.3h1.5" stroke="#3A95D2" stroke-width="0.6"/>
<path d="M184.9 374.3h-1.5M184.9 399.9h-1.5M184.9 425.5h-1.5" stroke="#F7A07A" stroke-width="0.6"/>
<path d="M31.6 443.3h1.5M31.6 459.5h1.5M31.6 475.7h1.5M31.6 491.9h1.5" stroke="#4f4f4f" stroke-width="0.6"/>
<g font-size="9"><text x="29" y="377.05" text-anchor="end" class="tb">10</text><text x="29" y="402.95" text-anchor="end" class="tb">0</text><text x="29" y="428.75" text-anchor="end" class="tb"><tspan class="mn">−</tspan>10</text><text x="187.3" y="377.4" class="to">−4000</text><text x="187.3" y="403" class="to">−5000</text><text x="187.3" y="428.6" class="to">−6000</text><text x="29" y="447.1" text-anchor="end" class="tk">0.2</text><text x="29" y="463.3" text-anchor="end" class="tk">0.1</text><text x="29" y="479.5" text-anchor="end" class="tk">0</text><text x="29" y="495.7" text-anchor="end" class="tk">−0.1</text><text x="65.5" y="440.8" text-anchor="middle" class="tk">128.5</text><text x="65.5" y="510" text-anchor="middle" class="tk">128.5</text><text x="108.5" y="440.8" text-anchor="middle" class="tk">129</text><text x="108.5" y="510" text-anchor="middle" class="tk">129</text><text x="151.5" y="440.8" text-anchor="middle" class="tk">129.5</text><text x="151.5" y="510" text-anchor="middle" class="tk">129.5</text></g>
<text x="108.25" y="521.6" text-anchor="middle" font-size="10" class="tk">Lon(Degree)</text>
<text transform="translate(14.3 401.95) rotate(-90)" text-anchor="middle" font-size="10" class="tb">E</text>
<text transform="translate(11.9 471.6) rotate(-90)" text-anchor="middle" font-size="10" class="tk">E</text>
<text transform="translate(219.1 401.7) rotate(-90)" text-anchor="middle" font-size="10" class="tl">Depth(m)</text>
<text x="111.15" y="541.7" text-anchor="middle" font-size="9.6" class="tc"><tspan font-weight="bold">(e)</tspan> Γ<tspan font-style="italic" dx="-0.2">yz</tspan></text>
<path d="M302.2 373.8V430.2M302.2 443.3V499.3M345.2 373.8V430.2M345.2 443.3V499.3M388.2 373.8V430.2M388.2 443.3V499.3" stroke="#E3E3E3" stroke-width="0.6" fill="none"/>
<path d="M268.3 374.2H421.6M268.3 385.4H421.6M268.3 396.5H421.6M268.3 407.7H421.6M268.3 418.8H421.6M268.3 430H421.6" stroke="#DCEBF5" stroke-width="0.7" fill="none"/>
<path d="M268.3 454.7H421.6M268.3 465.9H421.6M268.3 477.1H421.6M268.3 488.3H421.6" stroke="#E3E3E3" stroke-width="0.6" fill="none"/>
<path d="M270.8 396.7C271.18 396.5 272.28 395.98 273.1 395.5C273.92 395.02 274.83 394.32 275.7 393.8C276.57 393.28 277.43 392.83 278.3 392.4C279.17 391.97 280.03 391.52 280.9 391.2C281.77 390.88 282.65 390.68 283.5 390.5C284.35 390.32 285.23 390.37 286 390.1C286.77 389.83 287.37 389.38 288.1 388.9C288.83 388.42 289.65 387.63 290.4 387.2C291.15 386.77 291.82 386.22 292.6 386.3C293.38 386.38 294.32 387.07 295.1 387.7C295.88 388.33 296.5 389.47 297.3 390.1C298.1 390.73 299.03 391.32 299.9 391.5C300.77 391.68 301.48 391.43 302.5 391.2C303.52 390.97 304.85 390.63 306 390.1C307.15 389.57 308.25 388.92 309.4 388C310.55 387.08 311.83 385.8 312.9 384.6C313.97 383.4 314.93 381.82 315.8 380.8C316.67 379.78 317.35 378.58 318.1 378.5C318.85 378.42 319.58 379.13 320.3 380.3C321.02 381.47 321.62 383.78 322.4 385.5C323.18 387.22 324.07 389.32 325 390.6C325.93 391.88 326.98 392.62 328 393.2C329.02 393.78 330.15 393.75 331.1 394.1C332.05 394.45 332.83 394.72 333.7 395.3C334.57 395.88 335.3 396.78 336.3 397.6C337.3 398.42 338.58 399.63 339.7 400.2C340.82 400.77 342.02 400.63 343 401C343.98 401.37 344.73 402.1 345.6 402.4C346.47 402.7 347.33 403.03 348.2 402.8C349.07 402.57 350 402.02 350.8 401C351.6 399.98 352.22 398.2 353 396.7C353.78 395.2 354.63 393.15 355.5 392C356.37 390.85 357.33 390.03 358.2 389.8C359.07 389.57 359.83 390.03 360.7 390.6C361.57 391.17 362.45 392.67 363.4 393.2C364.35 393.73 365.47 393.85 366.4 393.8C367.33 393.75 368.13 393.13 369 392.9C369.87 392.67 370.73 392.2 371.6 392.4C372.47 392.6 373.33 393.23 374.2 394.1C375.07 394.97 375.88 396.58 376.8 397.6C377.72 398.62 378.75 399.43 379.7 400.2C380.65 400.97 381.55 401.4 382.5 402.2C383.45 403 384.42 404.18 385.4 405C386.38 405.82 387.38 406.58 388.4 407.1C389.42 407.62 390.47 407.98 391.5 408.1C392.53 408.22 393.6 407.97 394.6 407.8C395.6 407.63 396.63 406.93 397.5 407.1C398.37 407.27 398.93 408.08 399.8 408.8C400.67 409.52 401.78 410.82 402.7 411.4C403.62 411.98 404.43 412.22 405.3 412.3C406.17 412.38 407.03 411.85 407.9 411.9C408.77 411.95 409.72 412.3 410.5 412.6C411.28 412.9 411.87 413.75 412.6 413.7C413.33 413.65 414.15 413.17 414.9 412.3C415.65 411.43 416.38 409.72 417.1 408.5C417.82 407.28 418.85 405.58 419.2 405" stroke="#0A6FBF" stroke-width="1.9" fill="none" stroke-linejoin="round" stroke-linecap="round"/>
<path d="M270.5 404.8C270.88 404.8 271.98 405.18 272.8 404.8C273.62 404.42 274.4 403.32 275.4 402.5C276.4 401.68 277.65 400.62 278.8 399.9C279.95 399.18 281.28 398.57 282.3 398.2C283.32 397.83 284.1 397.62 284.9 397.7C285.7 397.78 286.38 398.9 287.1 398.7C287.82 398.5 288.42 397.45 289.2 396.5C289.98 395.55 290.93 393.58 291.8 393C292.67 392.42 293.53 392.48 294.4 393C295.27 393.52 296.18 395.08 297 396.1C297.82 397.12 298.58 398.68 299.3 399.1C300.02 399.52 300.38 398.9 301.3 398.6C302.22 398.3 303.63 397.73 304.8 397.3C305.97 396.87 307 396.72 308.3 396C309.6 395.28 311.3 394.37 312.6 393C313.9 391.63 315.15 389.03 316.1 387.8C317.05 386.57 317.58 385.6 318.3 385.6C319.02 385.6 319.77 386.57 320.4 387.8C321.03 389.03 321.38 391.27 322.1 393C322.82 394.73 323.83 396.98 324.7 398.2C325.57 399.42 326.28 399.78 327.3 400.3C328.32 400.82 329.78 400.93 330.8 401.3C331.82 401.67 332.53 401.87 333.4 402.5C334.27 403.13 335.13 404.23 336 405.1C336.87 405.97 337.73 407.27 338.6 407.7C339.47 408.13 340.33 407.32 341.2 407.7C342.07 408.08 342.97 409.42 343.8 410C344.63 410.58 345.37 410.85 346.2 411.2C347.03 411.55 348 411.82 348.8 412.1C349.6 412.38 350.35 413.63 351 412.9C351.65 412.17 352.12 409.72 352.7 407.7C353.28 405.68 353.85 402.53 354.5 400.8C355.15 399.07 355.92 397.93 356.6 397.3C357.28 396.67 357.88 396.7 358.6 397C359.32 397.3 360.08 398.23 360.9 399.1C361.72 399.97 362.63 401.83 363.5 402.2C364.37 402.57 365.23 401.62 366.1 401.3C366.97 400.98 367.83 400.47 368.7 400.3C369.57 400.13 370.5 400.13 371.3 400.3C372.1 400.47 372.78 400.73 373.5 401.3C374.22 401.87 374.82 402.72 375.6 403.7C376.38 404.68 377.33 406.38 378.2 407.2C379.07 408.02 379.93 408.08 380.8 408.6C381.67 409.12 382.53 409.28 383.4 410.3C384.27 411.32 385.13 413.45 386 414.7C386.87 415.95 387.73 417.03 388.6 417.8C389.47 418.57 390.18 419.02 391.2 419.3C392.22 419.58 393.7 419.78 394.7 419.5C395.7 419.22 396.48 418.32 397.2 417.6C397.92 416.88 398.42 414.82 399 415.2C399.58 415.58 400.03 418.12 400.7 419.9C401.37 421.68 402.33 424.75 403 425.9C403.67 427.05 404.13 427.23 404.7 426.8C405.27 426.37 405.77 424.32 406.4 423.3C407.03 422.28 407.8 420.55 408.5 420.7C409.2 420.85 409.88 422.9 410.6 424.2C411.32 425.5 412.13 428.27 412.8 428.5C413.47 428.73 414.02 427.18 414.6 425.6C415.18 424.02 415.73 420.73 416.3 419C416.87 417.27 417.52 416.07 418 415.2C418.48 414.33 419 414.03 419.2 413.8" stroke="#FF4A12" stroke-width="1.9" fill="none" stroke-linejoin="round" stroke-linecap="round"/>
<path d="M270.8 473.6C271.18 473.8 272.28 474.22 273.1 474.8C273.92 475.38 274.83 476.37 275.7 477.1C276.57 477.83 277.43 478.62 278.3 479.2C279.17 479.78 280.03 480.23 280.9 480.6C281.77 480.97 282.65 481.18 283.5 481.4C284.35 481.62 285.15 481.52 286 481.9C286.85 482.28 287.73 483.05 288.6 483.7C289.47 484.35 290.42 485.52 291.2 485.8C291.98 486.08 292.57 485.93 293.3 485.4C294.03 484.87 294.78 483.47 295.6 482.6C296.42 481.73 297.33 480.68 298.2 480.2C299.07 479.72 299.93 479.63 300.8 479.7C301.67 479.77 302.53 480.23 303.4 480.6C304.27 480.97 305.13 481.33 306 481.9C306.87 482.47 307.73 483.22 308.6 484C309.47 484.78 310.4 485.67 311.2 486.6C312 487.53 312.68 488.5 313.4 489.6C314.12 490.7 314.8 492.17 315.5 493.2C316.2 494.23 316.93 495.6 317.6 495.8C318.27 496 318.85 495.55 319.5 494.4C320.15 493.25 320.78 490.77 321.5 488.9C322.22 487.03 323.07 484.73 323.8 483.2C324.53 481.67 325.2 480.57 325.9 479.7C326.6 478.83 327.2 478.43 328 478C328.8 477.57 329.85 477.53 330.7 477.1C331.55 476.67 332.23 476.22 333.1 475.4C333.97 474.58 334.93 473.13 335.9 472.2C336.87 471.27 337.92 470.48 338.9 469.8C339.88 469.12 341.12 468.62 341.8 468.1C342.48 467.58 342.45 467.17 343 466.7C343.55 466.23 344.3 465.58 345.1 465.3C345.9 465.02 346.93 464.62 347.8 465C348.67 465.38 349.52 466.3 350.3 467.6C351.08 468.9 351.7 470.78 352.5 472.8C353.3 474.82 354.23 478.03 355.1 479.7C355.97 481.37 356.83 482.37 357.7 482.8C358.57 483.23 359.43 482.9 360.3 482.3C361.17 481.7 362.08 480.02 362.9 479.2C363.72 478.38 364.42 477.52 365.2 477.4C365.98 477.28 366.73 478.07 367.6 478.5C368.47 478.93 369.53 479.8 370.4 480C371.27 480.2 371.93 480.33 372.8 479.7C373.67 479.07 374.65 477.55 375.6 476.2C376.55 474.85 377.53 472.95 378.5 471.6C379.47 470.25 380.45 469.35 381.4 468.1C382.35 466.85 383.23 465.43 384.2 464.1C385.17 462.77 386.27 461.17 387.2 460.1C388.13 459.03 388.93 458.18 389.8 457.7C390.67 457.22 391.53 457.08 392.4 457.2C393.27 457.32 394.05 458.03 395 458.4C395.95 458.77 397.18 459.75 398.1 459.4C399.02 459.05 399.73 457.38 400.5 456.3C401.27 455.22 401.95 453.7 402.7 452.9C403.45 452.1 404.22 451.65 405 451.5C405.78 451.35 406.62 452.12 407.4 452C408.18 451.88 408.88 451.23 409.7 450.8C410.52 450.37 411.53 449.28 412.3 449.4C413.07 449.52 413.67 450.35 414.3 451.5C414.93 452.65 415.52 454.87 416.1 456.3C416.68 457.73 417.23 458.95 417.8 460.1C418.37 461.25 419.22 462.68 419.5 463.2" stroke="#000" stroke-width="1.9" fill="none" stroke-linejoin="round" stroke-linecap="round"/>
<path d="M268.3 373.8V430.2" stroke="#3A95D2" stroke-width="0.8"/>
<path d="M421.6 373.8V430.2" stroke="#F7A07A" stroke-width="0.8"/>
<path d="M268.3 430.2H421.6 M268.3 443.3V499.3H421.6" stroke="#4f4f4f" stroke-width="0.8" fill="none"/>
<path d="M302.2 430.2v-1.5M302.2 499.3v-1.5M345.2 430.2v-1.5M345.2 499.3v-1.5M388.2 430.2v-1.5M388.2 499.3v-1.5" stroke="#4f4f4f" stroke-width="0.6"/>
<path d="M268.3 374.2h1.5M268.3 385.4h1.5M268.3 396.5h1.5M268.3 407.7h1.5M268.3 418.8h1.5M268.3 430h1.5" stroke="#3A95D2" stroke-width="0.6"/>
<path d="M421.6 374.3h-1.5M421.6 399.9h-1.5M421.6 425.5h-1.5" stroke="#F7A07A" stroke-width="0.6"/>
<path d="M268.3 454.7h1.5M268.3 465.9h1.5M268.3 477.1h1.5M268.3 488.3h1.5M268.3 499.3h1.5" stroke="#4f4f4f" stroke-width="0.6"/>
<g font-size="9"><text x="265.7" y="377.65" text-anchor="end" class="tb"><tspan class="mn">−</tspan>180</text><text x="265.7" y="388.85" text-anchor="end" class="tb"><tspan class="mn">−</tspan>200</text><text x="265.7" y="399.95" text-anchor="end" class="tb"><tspan class="mn">−</tspan>220</text><text x="265.7" y="411.15" text-anchor="end" class="tb"><tspan class="mn">−</tspan>240</text><text x="265.7" y="422.25" text-anchor="end" class="tb"><tspan class="mn">−</tspan>260</text><text x="265.7" y="433.45" text-anchor="end" class="tb"><tspan class="mn">−</tspan>280</text><text x="424" y="377.4" class="to">−4000</text><text x="424" y="403" class="to">−5000</text><text x="424" y="428.6" class="to">−6000</text><text x="265.7" y="458.5" text-anchor="end" class="tk">1.6</text><text x="265.7" y="469.7" text-anchor="end" class="tk">1.4</text><text x="265.7" y="480.9" text-anchor="end" class="tk">1.2</text><text x="265.7" y="492.1" text-anchor="end" class="tk">1</text><text x="265.7" y="503.1" text-anchor="end" class="tk">0.8</text><text x="302.2" y="440.8" text-anchor="middle" class="tk">128.5</text><text x="302.2" y="510" text-anchor="middle" class="tk">128.5</text><text x="345.2" y="440.8" text-anchor="middle" class="tk">129</text><text x="345.2" y="510" text-anchor="middle" class="tk">129</text><text x="388.2" y="440.8" text-anchor="middle" class="tk">129.5</text><text x="388.2" y="510" text-anchor="middle" class="tk">129.5</text></g>
<text x="344.95" y="521.6" text-anchor="middle" font-size="10" class="tk">Lon(Degree)</text>
<text transform="translate(246.1 401.95) rotate(-90)" text-anchor="middle" font-size="10" class="tb">E</text>
<text transform="translate(251.5 471.6) rotate(-90)" text-anchor="middle" font-size="10" class="tk">E</text>
<text transform="translate(455.8 401.7) rotate(-90)" text-anchor="middle" font-size="10" class="tl">Depth(m)</text>
<text x="347.85" y="541.7" text-anchor="middle" font-size="9.6" class="tc"><tspan font-weight="bold">(f)</tspan> Γ<tspan font-style="italic" dx="-0.2">zz</tspan></text>
</svg>
</body></html>
